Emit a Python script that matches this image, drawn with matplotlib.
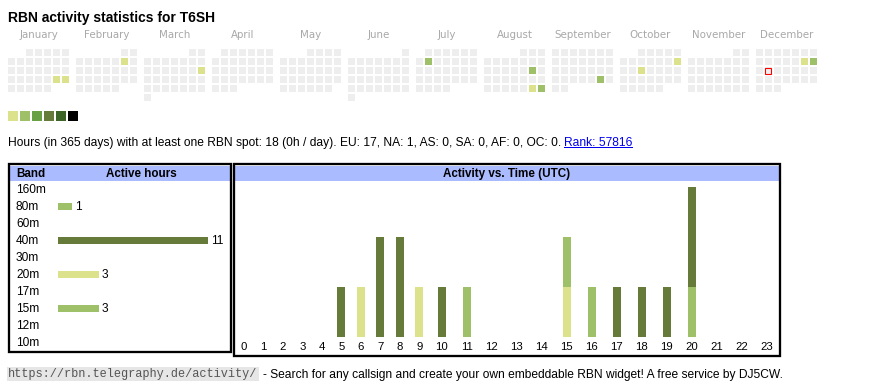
import datetime as dt
import numpy as np
import matplotlib
matplotlib.use("Agg")
import matplotlib.pyplot as plt
from matplotlib.patches import Rectangle

plt.rcParams['font.family'] = ['Liberation Sans', 'DejaVu Sans']

# ---------------- data ----------------
callsign = "T6SH"
year = 2025
month_names = ["January", "February", "March", "April", "May", "June", "July",
               "August", "September", "October", "November", "December"]
active_dates = ["2025-01-25", "2025-01-26", "2025-02-08", "2025-03-16", "2025-07-08",
                "2025-08-16", "2025-08-30", "2025-08-31", "2025-09-27", "2025-10-12",
                "2025-10-15", "2025-12-13", "2025-12-14"]
active_date_hours = [1, 1, 1, 1, 2, 2, 1, 2, 2, 1, 1, 1, 2]
today = "2025-12-16"
level_colors = ["#dbe28b", "#9dc069", "#68a044", "#667a39", "#3b6426", "#000000"]

total_hours = 18
days = 365
continents = ["EU", "NA", "AS", "SA", "AF", "OC"]
continent_hours = [17, 1, 0, 0, 0, 0]
rank = 57816

bands = ["160m", "80m", "60m", "40m", "30m", "20m", "17m", "15m", "12m", "10m"]
band_hours = [0, 1, 0, 11, 0, 3, 0, 3, 0, 0]
band_color = {"80m": "#9dc069", "40m": "#667a39", "20m": "#dbe28b", "15m": "#9dc069"}

hour_labels = [str(h) for h in range(24)]
#                0  1  2  3  4  5  6  7  8  9 10 11 12 13 14 15 16 17 18 19 20 21 22 23
hours_20m = [0, 0, 0, 0, 0, 0, 1, 0, 0, 1, 0, 0, 0, 0, 0, 1, 0, 0, 0, 0, 0, 0, 0, 0]
hours_15m = [0, 0, 0, 0, 0, 0, 0, 0, 0, 0, 0, 1, 0, 0, 0, 1, 0, 0, 0, 0, 1, 0, 0, 0]
hours_80m = [0, 0, 0, 0, 0, 0, 0, 0, 0, 0, 0, 0, 0, 0, 0, 0, 1, 0, 0, 0, 0, 0, 0, 0]
hours_40m = [0, 0, 0, 0, 0, 1, 0, 2, 2, 0, 1, 0, 0, 0, 0, 0, 0, 1, 1, 1, 2, 0, 0, 0]
hour_stack = [("20m", hours_20m), ("15m", hours_15m), ("80m", hours_80m), ("40m", hours_40m)]

url_text = "https://rbn.telegraphy.de/activity/"
footer_text = "- Search for any callsign and create your own embeddable RBN widget! A free service by DJ5CW."

# ---------------- layout ----------------
W, H, DPI = 870, 390, 100
fig = plt.figure(figsize=(W / DPI, H / DPI), dpi=DPI)
fig.patch.set_facecolor("white")
PX = 72.0 / DPI  # points per pixel


def px_axes(x0, y0, x1, y1):
    ax = fig.add_axes([x0 / W, 1 - y1 / H, (x1 - x0) / W, (y1 - y0) / H])
    ax.patch.set_alpha(0)
    return ax


bg = px_axes(0, 0, W, H)
bg.set_xlim(0, W)
bg.set_ylim(H, 0)
bg.axis("off")

renderer = fig.canvas.get_renderer()


def fit(t, target, n=4):
    for _ in range(n):
        bb = t.get_window_extent(renderer)
        t.set_fontsize(t.get_fontsize() * target / bb.width)
    return t.get_fontsize()


# title
t = bg.text(8, 21.7, f"RBN activity statistics for {callsign}", fontsize=10,
            fontweight="bold", va="baseline", ha="left")
fit(t, 209)

# calendar
CELL, PITCH, MPITCH, CX0, CY0 = 7, 9, 68, 8, 49.3
act = {dt.date.fromisoformat(d): h for d, h in zip(active_dates, active_date_hours)}
today_d = dt.date.fromisoformat(today)
for m in range(12):
    x0 = CX0 + MPITCH * m
    bg.text(x0 + 30.5, 35, month_names[m], fontsize=7.4, color="#a8a8a8",
            ha="center", va="center", family="DejaVu Sans")
    first = dt.date(year, m + 1, 1)
    nxt = dt.date(year + (m == 11), (m + 1) % 12 + 1, 1)
    off = first.weekday()
    for k in range((nxt - first).days):
        d = first + dt.timedelta(days=k)
        row, col = divmod(k + off, 7)
        x, y = x0 + PITCH * col, CY0 + PITCH * row
        c = "#eeeeee"
        if d in act:
            c = level_colors[min(act[d], len(level_colors)) - 1]
        bg.add_patch(Rectangle((x, y), CELL, CELL, facecolor=c, edgecolor="none"))
        if d == today_d:
            bg.add_patch(Rectangle((x + 0.5, y + 0.5), CELL - 1, CELL - 1,
                                   facecolor="none", edgecolor="#ff0000", lw=1.1 * PX))

# legend squares
for i, c in enumerate(level_colors):
    bg.add_patch(Rectangle((8 + 12 * i, 110.7), 10, 10, facecolor=c, edgecolor="none"))

# info line
cont = ", ".join(f"{c}: {v}" for c, v in zip(continents, continent_hours))
info = (f"Hours (in {days} days) with at least one RBN spot: {total_hours} "
        f"({total_hours // days}h / day). {cont}.")
t = bg.text(8, 145.7, info, fontsize=8.5, va="baseline", ha="left")
body_fs = fit(t, 550)
t = bg.text(564, 145.7, f"Rank: {rank}", fontsize=body_fs, va="baseline", ha="left",
            color="#0000ee")
rb = t.get_window_extent(renderer)
bg.plot([564, 564 + rb.width], [147.2, 147.2], color="#0000ee", lw=1 * PX)

# panels
HEAD = "#aabbff"
bg.add_patch(Rectangle((10, 165.5), 221, 15.5, facecolor=HEAD, edgecolor="none"))
bg.add_patch(Rectangle((234.5, 165.5), 545, 15.5, facecolor=HEAD, edgecolor="none"))
bg.add_patch(Rectangle((9.2, 164.2), 222.0, 187.3, facecolor="none", edgecolor="black",
                       lw=2.3 * PX, joinstyle="miter"))
bg.add_patch(Rectangle((233.6, 164.2), 546.4, 191.6, facecolor="none", edgecolor="black",
                       lw=2.3 * PX, joinstyle="miter"))
hfs = 8.4
bg.text(16, 177.2, "Band", fontsize=hfs, fontweight="bold", va="baseline", ha="left")
bg.text(141.7, 177.2, "Active hours", fontsize=hfs, fontweight="bold", va="baseline", ha="center")
bg.text(506.8, 177.2, "Activity vs. Time (UTC)", fontsize=hfs, fontweight="bold",
        va="baseline", ha="center")

# band chart
BAR_MAX_PX = 150.0
bax = px_axes(58, 180.8, 230, 350.8)
bax.axis("off")
scale = max(band_hours) / BAR_MAX_PX  # hours per pixel
bax.set_xlim(0, 172 * scale)
bax.set_ylim(len(bands) - 0.5, -0.5)
ypos = np.arange(len(bands))
bax.barh(ypos, band_hours, height=6.8 / 17,
         color=[band_color.get(b, "#cccccc") for b in bands])
ytr = bax.get_yaxis_transform()
for i, (b, v) in enumerate(zip(bands, band_hours)):
    bax.text((16 - 58) / 172, i + 0.23, b, transform=ytr, fontsize=8.6,
             va="baseline", ha="left", clip_on=False)
    if v > 0:
        bax.text(v + 3 * scale, i + 0.23, str(v), fontsize=8.6, va="baseline",
                 ha="left", clip_on=False)

# hour chart
col_w = np.array([14 + 5.5 * len(lbl) for lbl in hour_labels])
centers = np.cumsum(col_w) - col_w / 2
HOUR_PX = 50.0
hax = px_axes(234.25, 182, 234.25 + col_w.sum(), 336.7)
hax.axis("off")
hax.set_xlim(0, col_w.sum())
hax.set_ylim(0, (336.7 - 182) / HOUR_PX)
bottom = np.zeros(24)
for band, vals in hour_stack:
    vals = np.array(vals, dtype=float)
    hax.bar(centers, vals, width=8, bottom=bottom, color=band_color[band], linewidth=0)
    bottom += vals
for c, lbl in zip(centers, hour_labels):
    hax.text(c, -(350.2 - 336.7) / HOUR_PX, lbl, fontsize=8.2, ha="center",
             va="baseline", clip_on=False)

# footer
bg.add_patch(Rectangle((7.3, 367.3), 252, 13.4, facecolor="#e6e6e6", edgecolor="none"))
t = bg.text(8.3, 377.3, url_text, family=["Liberation Mono", "DejaVu Sans Mono"],
            fontsize=8.6, color="#555555", va="baseline", ha="left")
fit(t, 250)
bg.text(263.3, 377.8, footer_text, fontsize=body_fs, va="baseline", ha="left")

fig.savefig("out.png", dpi=DPI, facecolor="white")
